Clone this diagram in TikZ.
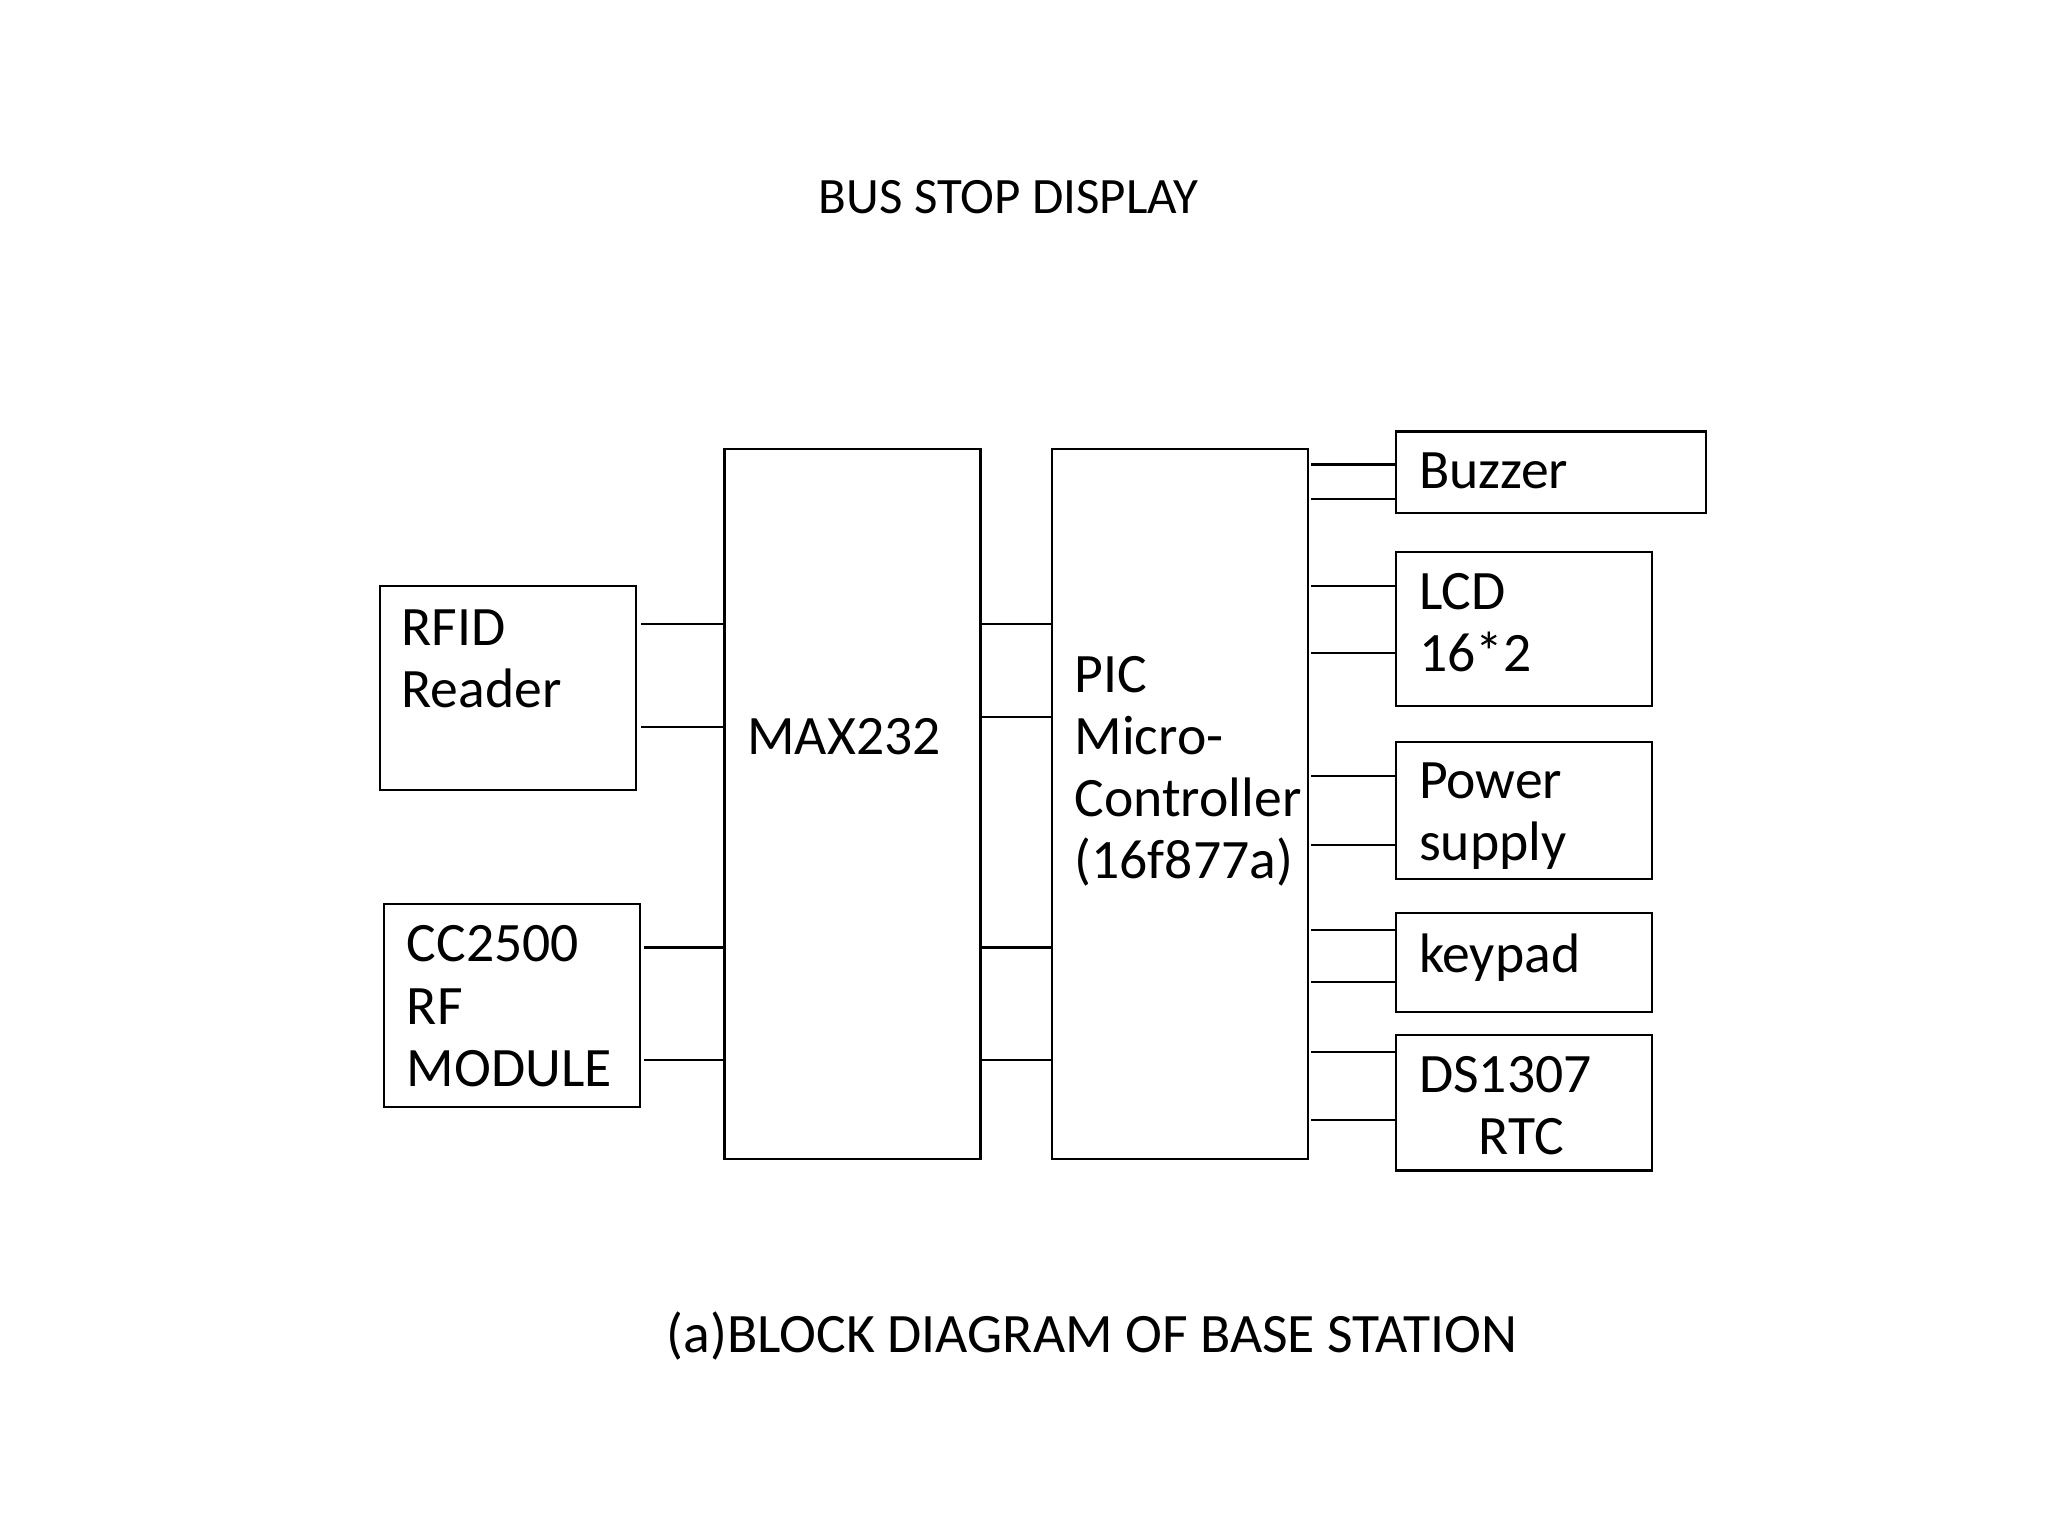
\documentclass[tikz,border=0pt]{standalone}
\usepackage{fontspec}
\setmainfont{Carlito}
\begin{document}
\begin{tikzpicture}[x=0.02cm,y=-0.02cm,
 box/.style={draw,line width=0.9pt,rectangle,inner sep=0pt},
 lab/.style={anchor=base west,inner sep=0pt,font=\fontsize{24}{28}\selectfont},
 ln/.style={line width=0.9pt}]
\useasboundingbox (0,0) rectangle (1552,1164);
\def\bx#1#2#3#4#5{\node[box,minimum width={(#4-#2)*0.02cm},minimum height={(#5-#3)*0.02cm}] (#1) at ({(#2+#4)/2},{(#3+#5)/2}) {};}
\bx{max}{549}{340}{743}{878}
\bx{pic}{797}{340}{991}{878}
\bx{rfid}{288}{444}{482}{599}
\bx{cc}{291}{685}{485}{839}
\bx{buz}{1058}{327}{1293}{389}
\bx{lcd}{1058}{418}{1252}{535}
\bx{pow}{1058}{562}{1252}{666}
\bx{key}{1058}{692}{1252}{767}
\bx{ds}{1058}{784}{1252}{887}
\foreach \y in {473,551} \draw[ln] (rfid.east |- 0,\y) ++(3,0) -- (max.west |- 0,\y);
\foreach \y in {718,803} \draw[ln] (cc.east |- 0,\y) ++(2,0) -- (max.west |- 0,\y);
\foreach \y in {473,543,718,803} \draw[ln] (max.east |- 0,\y) -- (pic.west |- 0,\y);
\foreach \y in {352,378} \draw[ln] (pic.east |- 0,\y) ++(2,0) -- (buz.west |- 0,\y);
\foreach \y in {444,495} \draw[ln] (pic.east |- 0,\y) ++(2,0) -- (lcd.west |- 0,\y);
\foreach \y in {588,640} \draw[ln] (pic.east |- 0,\y) ++(2,0) -- (pow.west |- 0,\y);
\foreach \y in {705,744} \draw[ln] (pic.east |- 0,\y) ++(2,0) -- (key.west |- 0,\y);
\foreach \y in {797,849} \draw[ln] (pic.east |- 0,\y) ++(2,0) -- (ds.west |- 0,\y);
\node[lab] (t1) at (304,489) {RFID};
\node[lab] (t2) at (304,536) {Reader};
\node[lab] (t3) at (308,729) {CC2500};
\node[lab] (t4) at (308,776) {RF};
\node[lab] (t5) at (308,823) {MODULE};
\node[lab] (t6) at (566,572) {MAX232};
\node[lab] (t7) at (814,525) {PIC};
\node[lab] (t8) at (814,572) {Micro-};
\node[lab] (t9) at (814,619) {Controller};
\node[lab] (t10) at (814,666) {(16f877a)};
\node[lab] (t11) at (1075,370) {Buzzer};
\node[lab] (t12) at (1075,462) {LCD};
\node[lab] (t13) at (1075,509) {16*2};
\node[lab] (t14) at (1075,605) {Power};
\node[lab] (t15) at (1075,652) {supply};
\node[lab] (t16) at (1075,737) {keypad};
\node[lab] (t17) at (1075,828) {DS1307};
\node[lab] (t18) at (1120,875) {RTC};
\node[lab,font=\fontsize{22}{26}\selectfont] (ti) at (620,162) {BUS STOP DISPLAY};
\node[lab] (ca) at (505,1025) {(a)BLOCK DIAGRAM OF BASE STATION};
\end{tikzpicture}
\end{document}
